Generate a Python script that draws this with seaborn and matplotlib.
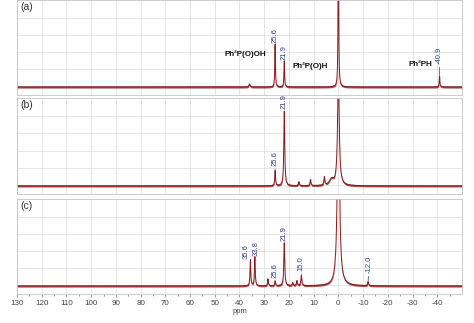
import numpy as np
import pandas as pd
import matplotlib
matplotlib.use("Agg")
import matplotlib.pyplot as plt
import seaborn as sns

# 31P NMR peak lists (chemical shift in ppm, height in display units, half-width in ppm)
ppm_a = [36.0, 25.6, 21.9, 0.0, -40.9]
height_a = [3, 43, 26, 230, 11]
hw_a = [0.25, 0.15, 0.15, 0.12, 0.15]

ppm_b = [25.6, 21.9, 16.0, 11.3, 5.7, 2.8, 0.0]
height_b = [15, 74, 4, 6, 8, 6, 110]
hw_b = [0.18, 0.22, 0.2, 0.2, 0.2, 1.0, 0.4]

ppm_c = [35.6, 33.8, 28.5, 25.6, 21.9, 18.5, 16.8, 15.0, 0.0, -12.0]
height_c = [26, 29, 7, 5, 43, 3, 5, 10, 200, 4]
hw_c = [0.18, 0.18, 0.18, 0.18, 0.22, 0.2, 0.2, 0.22, 0.5, 0.2]

# shift values annotated on each spectrum
labels_a = [25.6, 21.9, -40.9]
labels_b = [21.9, 25.6]
labels_c = [35.6, 33.8, 25.6, 21.9, 15.0, -12.0]

compounds = ["Ph²P(O)OH", "Ph²P(O)H", "Ph²PH"]
panel_names = ["(a)", "(b)", "(c)"]
xticks = list(range(130, -41, -10))

sns.set_theme(style="whitegrid")
plt.rcParams["font.family"] = ["Liberation Sans", "DejaVu Sans"]

LINE = "#861a1c"
BLUE = "#2f3f8c"
GRID = "#e0e0e0"
FRAME = "#c4c4c4"

x = np.linspace(130, -50, 6000)


def spectrum(pos, h, w):
    y = np.zeros_like(x)
    for p, hh, ww in zip(pos, h, w):
        y += hh / (1.0 + ((x - p) / ww) ** 2)
    return y


W, H = 474, 323
fig = plt.figure(figsize=(W / 100, H / 100), dpi=100)
left, width = 17 / W, 445 / W
boxes = [(0, 95), (98, 194), (199, 294)]
axes = [fig.add_axes([left, 1 - b / H, width, (b - t) / H]) for t, b in boxes]

spectra = [(ppm_a, height_a, hw_a), (ppm_b, height_b, hw_b), (ppm_c, height_c, hw_c)]

# annotation text heights (data units above baseline) and horizontal nudges
label_layout = [
    {25.6: (44, 0), 21.9: (27, 0), -40.9: (23, 0)},
    {21.9: (76, 0), 25.6: (20, 0)},
    {35.6: (27, 1.6), 33.8: (30, -0.4), 25.6: (8, 0), 21.9: (45, 0), 15.0: (15, 0), -12.0: (13, -0.5)},
]
all_labels = [labels_a, labels_b, labels_c]

for i, ax in enumerate(axes):
    pos, h, w = spectra[i]
    y = spectrum(pos, h, w)
    df = pd.DataFrame({"ppm": x, "intensity": y})
    ax.fill_between(x, y - 1.1, y + 1.1, color=LINE, alpha=0.75, lw=0)
    sns.lineplot(data=df, x="ppm", y="intensity", ax=ax, color=LINE, lw=0.7,
                 estimator=None, sort=False)
    ax.set_xlim(130, -50)
    ax.set_ylim(-8, 87)
    ax.set_xticks(xticks)
    ax.set_xticks(list(range(125, -50, -10)), minor=True)
    ax.set_yticks([1, 18, 35, 52, 69])
    ax.set_yticklabels([])
    ax.set_ylabel("")
    ax.grid(True, which="major", color=GRID, lw=0.6)
    ax.grid(False, which="minor")
    for s in ax.spines.values():
        s.set_color(FRAME)
        s.set_linewidth(0.6)
    ax.tick_params(axis="y", length=0)
    if i < 2:
        ax.set_xlabel("")
        ax.tick_params(axis="x", which="both", length=0, labelbottom=False)
    else:
        ax.set_xlabel("ppm", fontsize=5.5, color="#444444", labelpad=0.5)
        ax.set_xticklabels([str(t) for t in xticks])
        ax.tick_params(axis="x", which="major", length=2.5, width=0.5, color="#777777",
                       labelsize=5.8, labelcolor="#444444", pad=2, bottom=True)
        ax.tick_params(axis="x", which="minor", length=1.5, width=0.5, color="#777777", bottom=True)
    ax.text(0.008, 0.975, panel_names[i], transform=ax.transAxes, ha="left", va="top",
            fontsize=7.5, color="#333333")

    peak_h = dict(zip(pos, h))
    for v in all_labels[i]:
        ty, dx = label_layout[i][v]
        top = min(peak_h[v], 86)
        ax.annotate(f"{v:.1f}", xy=(v, top + 0.5), xytext=(v + dx, ty),
                    ha="center", va="bottom", rotation=90, fontsize=5.5, color=BLUE,
                    arrowprops=dict(arrowstyle="-", color=BLUE, lw=0.5, shrinkA=0, shrinkB=0)
                    if ty - top > 3 else None)

# compound assignments on the top spectrum
for name, px, py in zip(compounds, [37.6, 11.3, -33.2], [33, 21, 23]):
    axes[0].text(px, py, name, ha="center", va="center", fontsize=5.8,
                 fontweight="bold", color="#111111")

fig.savefig("out.png", dpi=100, facecolor="white")
